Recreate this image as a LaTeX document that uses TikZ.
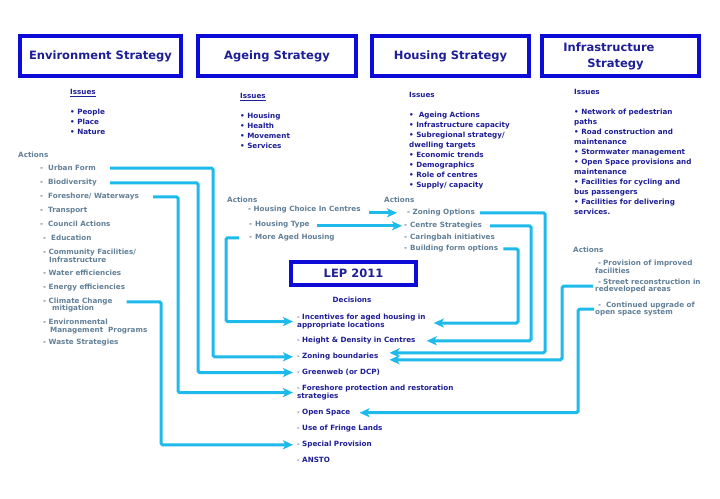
\documentclass[tikz,border=0pt]{standalone}
\usepackage{fontspec}
\setmainfont{DejaVu Sans}
\usetikzlibrary{arrows.meta}
\definecolor{boxblue}{RGB}{12,12,214}
\definecolor{navy}{RGB}{30,30,150}
\definecolor{actgray}{RGB}{98,128,152}
\definecolor{lnc}{RGB}{30,186,236}
\newcommand\dd[1]{-\hspace{#1}}
\newcommand\md[1]{{\mdseries -}\hspace{#1}}
\begin{document}
\begin{tikzpicture}[x=1pt,y=-1pt,
  tbox/.style={draw=boxblue, line width=4pt, inner sep=0pt, minimum height=40pt,
    font=\fontsize{11.5}{16}\selectfont\bfseries, text=navy, align=center},
  t/.style={inner sep=0pt, anchor=north west, align=left, font=\fontsize{7.2}{10}\selectfont\bfseries},
  iss/.style={t, text=navy},
  act/.style={t, text=actgray},
  dec/.style={t, text=navy},
  tight/.style={font=\fontsize{7.2}{7.5}\selectfont\bfseries},
  tighter/.style={font=\fontsize{7.2}{6.8}\selectfont\bfseries},
  conn/.style={draw=lnc, line width=3pt, rounded corners=1.5pt},
  arr/.style={conn, -{Stealth[length=10pt,width=9pt,inset=2.5pt]}}]
\fill[white] (0,0) rectangle (720,498);
\useasboundingbox (0,0) rectangle (720,498);

% strategy boxes
\node[tbox, minimum width=161pt] (env) at (100.5,56) {Environment Strategy};
\node[tbox, minimum width=158pt] (age) at (277,56) {Ageing Strategy};
\node[tbox, minimum width=157pt] (hou) at (450.5,56) {Housing Strategy};
\node[tbox, minimum width=157pt] (inf) at (620.5,56) {Infrastructure\hspace*{23pt}\\Strategy\hspace*{10pt}};

% issues
\node[iss] (eiss) at (70,89.1) {\underline{Issues}};
\node[iss] (eil) at (70,109.1) {• People\\• Place\\• Nature};
\node[iss] (aiss) at (240,93.1) {\underline{Issues}};
\node[iss] (ail) at (240,113.1) {• Housing\\• Health\\• Movement\\• Services};
\node[iss] (hiss) at (409,92.1) {Issues};
\node[iss] (hil) at (409,112.1) {•\ \ Ageing Actions\\• Infrastructure capacity\\• Subregional strategy/\\dwelling targets\\• Economic trends\\• Demographics\\• Role of centres\\• Supply/ capacity};
\node[iss] (iiss) at (574,89.1) {Issues};
\node[iss] (iil) at (574,109.1) {• Network of pedestrian\\paths\\• Road construction and\\maintenance\\• Stormwater management\\• Open Space provisions and\\maintenance\\• Facilities for cycling and\\bus passengers\\• Facilities for delivering\\services.};

% environment actions
\node[act] (eact) at (18,152.1) {Actions};
\node[act] (uf) at (40,165.1) {\dd{5pt}Urban Form};
\node[act] (bio) at (40,179.1) {\dd{5pt}Biodiversity};
\node[act] (fw) at (40,193.1) {\dd{5pt}Foreshore/ Waterways};
\node[act] (tr) at (40,207.1) {\dd{5pt}Transport};
\node[act] (ca) at (40,221.1) {\dd{5pt}Council Actions};
\node[act] (ed) at (43,235.1) {\dd{5pt}Education};
\node[act, tight] (cf) at (43,249.1) {\dd{2.5pt}Community Facilities/\\\hspace*{6pt}Infrastructure};
\node[act] (we) at (43,270.1) {\dd{2.5pt}Water efficiencies};
\node[act] (ee) at (43,284.1) {\dd{2.5pt}Energy efficiencies};
\node[act] (cc) at (43,298.1) {\dd{2.5pt}Climate Change};
\node[act] (ccm) at (52,305.1) {mitigation};
\node[act, tight] (em) at (43,319.1) {\dd{2.5pt}Environmental\\\hspace*{7pt}Management\ \ Programs};
\node[act] (ws) at (43,339.1) {\dd{2.5pt}Waste Strategies};

% ageing actions
\node[act] (aact) at (227,197.1) {Actions};
\node[act] (hcc) at (248,206.1) {\dd{2.5pt}Housing Choice In Centres};
\node[act] (ht) at (249,221.1) {\dd{3pt}Housing Type};
\node[act] (mah) at (249,234.1) {\dd{3pt}More Aged Housing};

% housing actions
\node[act] (hact) at (384,197.1) {Actions};
\node[act] (zo) at (407,209.1) {\dd{2.5pt}Zoning Options};
\node[act] (cs) at (404,222.1) {\dd{3pt}Centre Strategies};
\node[act] (ci) at (404,234.1) {\dd{3pt}Caringbah initiatives};
\node[act] (bf) at (404,245.1) {\dd{3pt}Building form options};

% infrastructure actions
\node[act] (iact) at (573,247.1) {Actions};
\node[act, tighter] (pi) at (595,260.1) {\hspace*{3pt}\dd{2pt}Provision of improved\\facilities};
\node[act, tighter] (sr) at (595,279.1) {\hspace*{3pt}\dd{2pt}Street reconstruction in\\redeveloped areas};
\node[act, tighter] (cu) at (595,302.1) {\hspace*{3pt}\dd{5pt}Continued upgrade of\\open space system};

% LEP
\node[draw=boxblue, line width=3.5pt, minimum width=125pt, minimum height=23pt, inner sep=0pt,
  font=\fontsize{11.5}{14}\selectfont\bfseries, text=navy] (lep) at (353.5,273.5) {LEP 2011};
\node[inner sep=0pt, font=\fontsize{7.2}{10}\selectfont\bfseries, text=navy] (decl) at (352,300) {Decisions};

% decisions
\node[dec, tight] (inc) at (297,314.1) {\md{2.4pt}Incentives for aged housing in\\appropriate locations};
\node[dec] (hd) at (297,337.1) {\md{2.4pt}Height \& Density in Centres};
\node[dec] (zb) at (297,353.1) {\md{2.4pt}Zoning boundaries};
\node[dec] (gw) at (297,369.1) {\md{2.4pt}Greenweb (or DCP)};
\node[dec, tight] (fp) at (297,385.1) {\md{2.4pt}Foreshore protection and restoration\\strategies};
\node[dec] (os) at (297,409.1) {\md{2.4pt}Open Space};
\node[dec] (fl) at (297,425.1) {\md{2.4pt}Use of Fringe Lands};
\node[dec] (sp) at (297,441.1) {\md{2.4pt}Special Provision};
\node[dec] (an) at (297,457.1) {\md{2.4pt}ANSTO};

% rails
\coordinate (r1) at (213,0);
\coordinate (r2) at (198,0);
\coordinate (r3) at (178,0);
\coordinate (r4) at (161,0);
\coordinate (r5) at (226,0);
\coordinate (r8) at (545,0);
\coordinate (r9) at (531,0);
\coordinate (r10) at (518,0);
\coordinate (r11) at (578,0);
\coordinate (r12) at (562,0);
\coordinate (zbU) at ([shift={(11,-4)}]zb.east);
\coordinate (zbD) at ([shift={(11,3)}]zb.east);
\coordinate (hdR) at ([xshift=11pt]hd.east);
\coordinate (incR) at ([shift={(8,1.5)}]inc.east);
\coordinate (osR) at ([xshift=9pt]os.east);
\coordinate (hccE) at ([xshift=8pt]hcc.east);
\coordinate (htE) at ([xshift=7pt]ht.east);

% connectors
\draw[arr] ([xshift=14pt]uf.east) -| (r1 |- zb.west) -- ([xshift=-4pt]zb.west);
\draw[arr] ([xshift=13pt]bio.east) -| (r2 |- gw.west) -- ([xshift=-4pt]gw.west);
\draw[arr] ([xshift=14pt]fw.east) -| (r3 |- fp.west) -- ([xshift=-4pt]fp.west);
\draw[arr] ([xshift=14pt]cc.east) -| (r4 |- sp.west) -- ([xshift=-4pt]sp.west);
\draw[arr] ([xshift=-10pt]mah.west) -| (r5 |- inc.west) -- ([xshift=-4pt]inc.west);
\draw[arr] (hccE |- zo.west) -- ([xshift=-10pt]zo.west);
\draw[arr] (htE |- cs.west) -- ([xshift=-2pt]cs.west);
\draw[arr] ([xshift=5pt]zo.east) -| (r8 |- zbU) -- (zbU);
\draw[arr] ([xshift=8pt]cs.east) -| (r9 |- hdR) -- (hdR);
\draw[arr] ([xshift=5pt]bf.east) -| (r10 |- incR) -- (incR);
\draw[arr] ([xshift=-2pt]sr.west) -| (r12 |- zbD) -- (zbD);
\draw[arr] ([xshift=-1pt]cu.west) -| (r11 |- osR) -- (osR);
\end{tikzpicture}
\end{document}
